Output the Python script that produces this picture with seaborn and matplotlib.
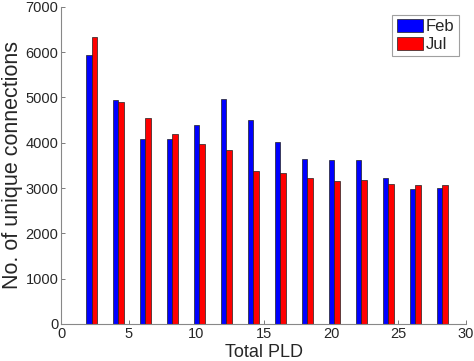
import matplotlib
matplotlib.use("Agg")
import matplotlib.pyplot as plt
import seaborn as sns
import pandas as pd

pld = [2, 4, 6, 8, 10, 12, 14, 16, 18, 20, 22, 24, 26, 28]
feb = [5930, 4950, 4070, 4090, 4380, 4970, 4500, 4020, 3630, 3610, 3610, 3230, 2980, 3010]
jul = [6340, 4900, 4550, 4200, 3960, 3830, 3380, 3320, 3210, 3160, 3170, 3080, 3070, 3070]
months = ["Feb", "Jul"]

df = pd.DataFrame({
    "PLD": pld * 2,
    "count": feb + jul,
    "month": ["Feb"] * len(pld) + ["Jul"] * len(pld),
})

sns.set_style("white")
plt.rcParams["font.family"] = ["Liberation Sans", "DejaVu Sans"]

fig = plt.figure(figsize=(4.74, 3.61), dpi=100)
ax = fig.add_axes([0.129, 0.1025, 0.854, 0.879])

sns.barplot(data=df, x="PLD", y="count", hue="month", hue_order=months,
            palette={"Feb": "#0000ff", "Jul": "#ff0000"}, native_scale=True,
            width=0.4, dodge=True, saturation=1, edgecolor="#202020",
            linewidth=0.5, ax=ax, errorbar=None)

for p in ax.patches:
    p.set_x(p.get_x() + 0.25)

ax.set_xlim(0, 30)
ax.set_ylim(0, 7000)
ax.set_xticks([0, 5, 10, 15, 20, 25, 30])
ax.set_yticks(range(0, 7001, 1000))
ax.tick_params(direction="in", length=3, width=0.6, color="#666666",
               labelsize=10.5, pad=2, left=True, bottom=True)
for s in ["top", "right"]:
    ax.spines[s].set_visible(False)
for s in ["left", "bottom"]:
    ax.spines[s].set_color("#888888")
    ax.spines[s].set_linewidth(0.8)

ax.set_xlabel("Total PLD", fontsize=13, labelpad=2)
ax.set_ylabel("No. of unique connections", fontsize=15.5, labelpad=2)

leg = ax.legend(loc="upper right", bbox_to_anchor=(0.99, 0.985), fontsize=12,
                frameon=True, fancybox=False, edgecolor="#888888",
                handlelength=1.6, handleheight=0.85, handletextpad=0.15,
                borderpad=0.25, labelspacing=0.15, borderaxespad=0.2)
leg.get_frame().set_linewidth(0.8)

fig.savefig("out.png", dpi=100)
